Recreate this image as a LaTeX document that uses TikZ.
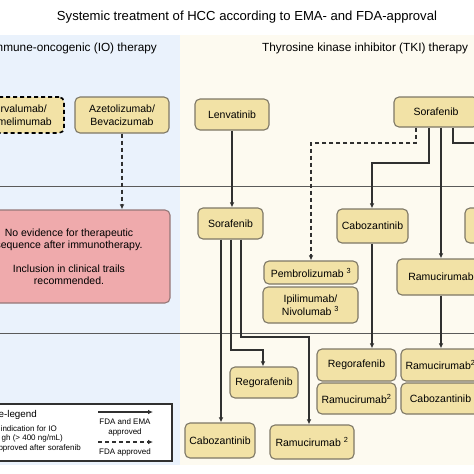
\documentclass[tikz,border=0pt]{standalone}
\usepackage{fontspec}
\setmainfont{Liberation Sans}
\usetikzlibrary{arrows.meta}
\definecolor{tanfill}{HTML}{F2E2A6}
\definecolor{boxline}{HTML}{7E7866}
\definecolor{redfill}{HTML}{EFAAAC}
\definecolor{redline}{HTML}{957878}
\definecolor{lineclr}{HTML}{303030}
\definecolor{bluebg}{HTML}{EAF2FC}
\definecolor{creambg}{HTML}{FDFAF0}
\definecolor{sepline}{HTML}{5A5A5A}
\begin{document}
\begin{tikzpicture}[x=1pt,y=-1pt,
  box/.style={draw=boxline, fill=tanfill, rounded corners=5pt, line width=1.1pt, align=center,
    font=\fontsize{10.5}{12.5}\selectfont, inner sep=0pt},
  conn/.style={draw=lineclr, line width=1.1pt, -{Latex[length=5pt,width=4.6pt]}},
  dconn/.style={conn, line width=1.5pt, dash pattern=on 4pt off 3pt},
  hdr/.style={font=\fontsize{11.8}{13}\selectfont, inner sep=0pt},
  small/.style={font=\fontsize{8}{9.2}\selectfont, inner sep=0pt, align=center}]
\useasboundingbox (0,0) rectangle (474,474);
% backgrounds
\fill[bluebg] (0,35) rectangle (180,465);
\fill[creambg] (180,35) rectangle (474,465);
\draw[sepline, line width=0.9pt] (0,186) -- (474,186);
\draw[sepline, line width=0.9pt] (0,333) -- (474,333);
% title and headers
\node[font=\fontsize{13.1}{15}\selectfont, inner sep=0pt] (title) at (247,17) {Systemic treatment of HCC according to EMA- and FDA-approval};
\node[hdr, anchor=east] (hio) at (157,48) {Immune-oncogenic (IO) therapy};
\node[hdr, anchor=west] (htki) at (262,48) {Thyrosine kinase inhibitor (TKI) therapy};
% first line boxes
\node[box, draw=black, dash pattern=on 4pt off 3pt, line width=1.6pt, minimum width=94pt, minimum height=36pt] (durva) at (17,115) {Durvalumab/\\Tremelimumab};
\node[box, minimum width=94pt, minimum height=36pt] (azeto) at (122,115) {Azetolizumab/\\Bevacizumab};
\node[box, minimum width=74pt, minimum height=31pt] (lenva) at (232,114.5) {Lenvatinib};
\node[box, minimum width=84pt, minimum height=30pt] (sora1) at (436,112) {Sorafenib};
% second line
\node[box, draw=redline, fill=redfill, minimum width=202pt, minimum height=93pt,
  font=\fontsize{10.5}{12}\selectfont] (red) at (69,256.5)
  {No evidence for therapeutic\\sequence after immunotherapy.\\[12pt]Inclusion in clinical trails\\recommended.};
\node[box, minimum width=65pt, minimum height=31pt] (sora2) at (230.5,223.5) {Sorafenib};
\node[box, minimum width=71pt, minimum height=34pt] (cabo1) at (372.5,226) {Cabozantinib};
\node[box, minimum width=80pt, minimum height=35pt] (rb) at (505,225.5) {};
\node[box, minimum width=94pt, minimum height=23pt] (pembro) at (311,272.5) {Pembrolizumab \textsuperscript{3}};
\node[box, minimum width=95pt, minimum height=36pt] (ipili) at (310.5,305) {Ipilimumab/\\Nivolumab \textsuperscript{3}};
\node[box, minimum width=88pt, minimum height=36pt] (ramu1) at (441,277) {Ramucirumab};
% third line
\node[box, minimum width=79pt, minimum height=32pt] (rego1) at (356.5,365) {Regorafenib};
\node[box, minimum width=79pt, minimum height=31pt] (ramu2) at (356.5,398.5) {Ramucirumab\textsuperscript{2}};
\node[box, minimum width=79pt, minimum height=32pt] (ramu3) at (440.5,365) {Ramucirumab\textsuperscript{2}};
\node[box, minimum width=79pt, minimum height=31pt] (cabo3) at (440.5,398.5) {Cabozantinib};
\node[box, minimum width=68pt, minimum height=31pt] (rego2) at (264,382.5) {Regorafenib};
\node[box, minimum width=70pt, minimum height=35pt] (cabo2) at (220,440.5) {Cabozantinib};
\node[box, minimum width=84pt, minimum height=34pt] (ramu4) at (312,442) {Ramucirumab \textsuperscript{2}};
% connectors
\draw[dconn] (azeto.south) -- (azeto.south |- red.north);
\draw[conn] (232,0 |- lenva.south) -- (232,0 |- sora2.north);
\draw[dconn] (416,0 |- sora1.south) |- (311,143) -- (311,0 |- pembro.north);
\draw[conn] (429,0 |- sora1.south) |- (372,163) -- (372,0 |- cabo1.north);
\draw[conn] (441,0 |- sora1.south) -- (441,0 |- ramu1.north);
\draw[conn] (453,0 |- sora1.south) |- (505,143) -- (rb.north);
\draw[conn] (372,0 |- cabo1.south) -- (372,0 |- rego1.north);
\draw[conn] (441,0 |- ramu1.south) -- (441,0 |- ramu3.north);
\draw[conn] (221,0 |- sora2.south) -- (221,0 |- cabo2.north);
\draw[conn] (231,0 |- sora2.south) |- (263,350) -- (263,0 |- rego2.north);
\draw[conn] (241,0 |- sora2.south) |- (309,337) -- (309,0 |- ramu4.north);
% legend
\node[draw=lineclr, fill=white, line width=1.2pt, minimum width=190pt, minimum height=57pt, inner sep=0pt] (legend) at (77,432.5) {};
\node[font=\fontsize{9.8}{11}\selectfont, inner sep=0pt, anchor=east] (lgt) at (37,415) {e-legend};
\node[small, anchor=east] (lg1) at (57,429) {indication for IO};
\node[small, anchor=east] (lg2) at (63,438.5) {gh (> 400 ng/mL)};
\node[small, anchor=east] (lg3) at (81,448.5) {pproved after sorafenib};
\coordinate (la1) at (98,412);
\coordinate (la2) at (153,412);
\draw[conn] (la1) -- (la2);
\node[small] (lfe) at (125,427.5) {FDA and EMA\\approved};
\coordinate (lb1) at (98,442);
\coordinate (lb2) at (153,442);
\draw[dconn] (lb1) -- (lb2);
\node[small] (lf) at (125,452) {FDA approved};
\end{tikzpicture}
\end{document}
